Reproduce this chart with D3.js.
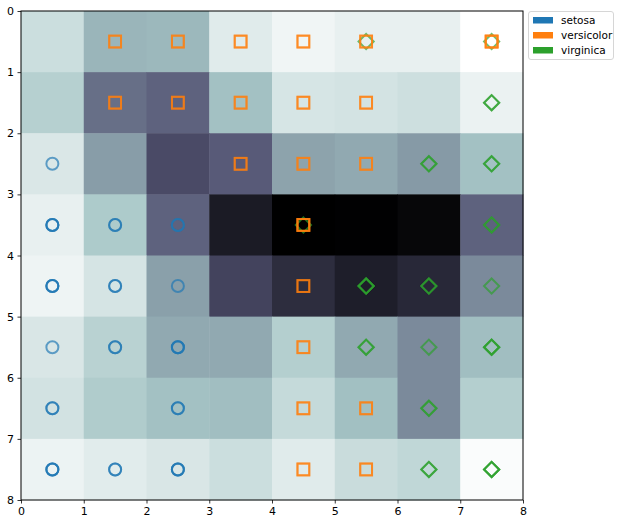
<!DOCTYPE html>
<html><head><meta charset="utf-8">
<script src="https://cdn.jsdelivr.net/npm/d3@7"></script>
<style>body{margin:0;background:#fff;} svg{display:block;font-family:"DejaVu Sans",sans-serif;}</style>
</head><body>
<svg id="chart" width="619" height="524"></svg>
<script>
// Distance map (rows = y 0..7, cols = x 0..7), normalised
const distRows = [
  [0.15, 0.31, 0.30, 0.09, 0.044, 0.066, 0.066, 0.0],
  [0.21, 0.54, 0.58, 0.27, 0.117, 0.125, 0.144, 0.057],
  [0.106, 0.39, 0.67, 0.606, 0.37, 0.35, 0.40, 0.27],
  [0.066, 0.234, 0.58, 0.88, 1.0, 0.995, 0.97, 0.58],
  [0.05, 0.12, 0.38, 0.70, 0.80, 0.865, 0.82, 0.45],
  [0.11, 0.20, 0.35, 0.35, 0.215, 0.35, 0.45, 0.28],
  [0.13, 0.227, 0.27, 0.28, 0.167, 0.275, 0.45, 0.215],
  [0.055, 0.085, 0.11, 0.15, 0.09, 0.155, 0.18, 0.015]
];
const species = ["setosa", "versicolor", "virginica"];
const speciesColors = ["#1f77b4", "#ff7f0e", "#2ca02c"];
// winning cells: [x, y, count]
const setosaCells = [[0,2,1],[0,3,3],[1,3,2],[2,3,2],[0,4,3],[1,4,2],[2,4,1],[0,5,1],[1,5,2],[2,5,3],[0,6,2],[2,6,2],[0,7,3],[1,7,2],[2,7,3]];
const versicolorCells = [[1,0,2],[2,0,2],[3,0,2],[4,0,2],[5,0,2],[7,0,3],[1,1,2],[2,1,2],[3,1,2],[4,1,2],[5,1,2],[3,2,2],[4,2,2],[5,2,2],[4,3,3],[4,4,2],[4,5,2],[4,6,2],[5,6,2],[4,7,2],[5,7,2]];
const virginicaCells = [[5,0,1],[7,0,1],[7,1,2],[6,2,2],[7,2,2],[4,3,1],[7,3,2],[5,4,3],[6,4,2],[7,4,1],[5,5,2],[6,5,1],[7,5,3],[6,6,2],[6,7,2],[7,7,3]];
const tickValues = [0,1,2,3,4,5,6,7,8];

// bone colormap (matplotlib), reversed
function bone(v){
  function seg(pts, t){
    for (let i=1;i<pts.length;i++){
      if (t<=pts[i][0]){const a=pts[i-1],b=pts[i];return a[1]+(t-a[0])/(b[0]-a[0])*(b[1]-a[1]);}
    }
    return pts[pts.length-1][1];
  }
  const r=seg([[0,0],[0.746032,0.652778],[1,1]],v);
  const g=seg([[0,0],[0.365079,0.319444],[0.746032,0.777778],[1,1]],v);
  const b=seg([[0,0],[0.365079,0.444444],[1,1]],v);
  return d3.rgb(r*255,g*255,b*255).toString();
}
const boneR = d => bone(1-Math.max(0,Math.min(1,d)));

const svg = d3.select("#chart");
const L=21, R=523, T=11, B=500;
const x = d3.scaleLinear().domain([0,8]).range([L,R]);
const y = d3.scaleLinear().domain([0,8]).range([T,B]);

const cells=[];
distRows.forEach((row,j)=>row.forEach((d,i)=>cells.push({i,j,d})));
svg.append("g").selectAll("rect").data(cells).join("rect")
  .attr("x",c=>x(c.i)).attr("y",c=>y(c.j))
  .attr("width",c=>x(c.i+1)-x(c.i)+0.5).attr("height",c=>y(c.j+1)-y(c.j)+0.5)
  .attr("fill",c=>boneR(c.d));

const mg = svg.append("g");
const op = 0.68;
function expand(cells){const out=[];cells.forEach(c=>{for(let k=0;k<c[2];k++)out.push(c);});return out;}
// virginica diamonds
mg.selectAll("path.d").data(expand(virginicaCells)).join("path")
  .attr("d",c=>{const cx=x(c[0]+0.5),cy=y(c[1]+0.5),h=7.6;return `M${cx},${cy-h}L${cx+h},${cy}L${cx},${cy+h}L${cx-h},${cy}Z`;})
  .attr("fill","none").attr("stroke",speciesColors[2]).attr("stroke-width",2).attr("stroke-opacity",op);
// setosa circles
mg.selectAll("circle").data(expand(setosaCells)).join("circle")
  .attr("cx",c=>x(c[0]+0.5)).attr("cy",c=>y(c[1]+0.5)).attr("r",6)
  .attr("fill","none").attr("stroke",speciesColors[0]).attr("stroke-width",2).attr("stroke-opacity",op);
// versicolor squares
mg.selectAll("rect").data(expand(versicolorCells)).join("rect")
  .attr("x",c=>x(c[0]+0.5)-5.9).attr("y",c=>y(c[1]+0.5)-5.9).attr("width",11.8).attr("height",11.8)
  .attr("fill","none").attr("stroke",speciesColors[1]).attr("stroke-width",2).attr("stroke-opacity",op);

// axes
const xAxis = d3.axisBottom(x).tickValues(tickValues).tickSize(3.5).tickPadding(3.5);
const yAxis = d3.axisLeft(y).tickValues(tickValues).tickSize(3.5).tickPadding(3.5);
const gx = svg.append("g").attr("transform",`translate(0,${B})`).call(xAxis);
const gy = svg.append("g").attr("transform",`translate(${L},0)`).call(yAxis);
[gx,gy].forEach(g=>{
  g.select(".domain").remove();
  g.selectAll("text").attr("font-size",11).attr("fill","#000").attr("font-family","DejaVu Sans");
  g.selectAll("line").attr("stroke","#000").attr("stroke-width",0.8);
});
svg.append("rect").attr("x",L).attr("y",T).attr("width",R-L).attr("height",B-T)
  .attr("fill","none").attr("stroke","#000").attr("stroke-width",1);

// legend
const lg = svg.append("g");
lg.append("rect").attr("x",528.5).attr("y",11.5).attr("width",85).attr("height",48).attr("rx",2.5)
  .attr("fill","#fff").attr("fill-opacity",0.8).attr("stroke","#d6d6d6");
species.forEach((s,k)=>{
  const yy = 20 + k*15;
  lg.append("rect").attr("x",533).attr("y",yy-3).attr("width",20).attr("height",6.5).attr("fill",speciesColors[k]);
  lg.append("text").attr("x",561).attr("y",yy).attr("dy","0.35em").attr("font-size",10.5).attr("fill","#000").text(s);
});
</script>
</body></html>
